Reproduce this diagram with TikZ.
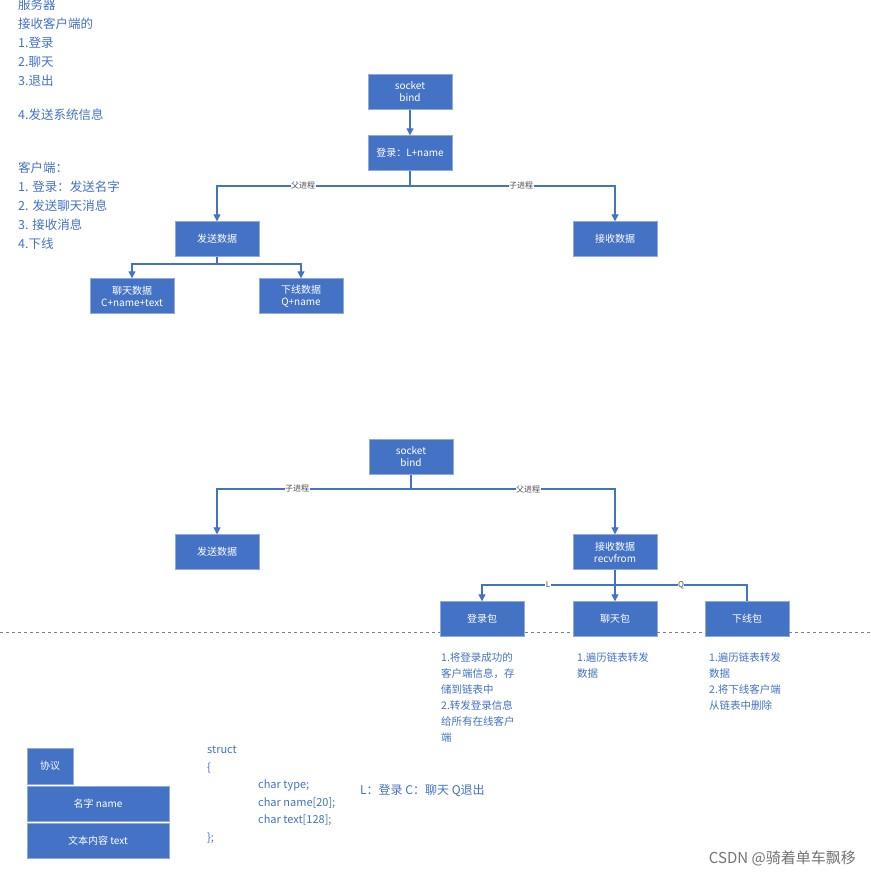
\documentclass[tikz,border=0pt]{standalone}
\usepackage{fontspec}
\setmainfont{Noto Sans CJK SC}
\usetikzlibrary{arrows.meta}
\definecolor{bl}{HTML}{4472C4}
\begin{document}
\begin{tikzpicture}[x=1pt,y=-1pt,
 bx/.style={fill=bl,draw=bl!60!white,text=white,minimum width=84pt,minimum height=35pt,font=\fontsize{10}{12}\selectfont,align=center,inner sep=1pt},
 ln/.style={draw=bl,line width=1.2pt},
 ar/.style={ln,-{Triangle[width=7pt,length=7pt]}},
 lb/.style={fill=white,inner sep=0.5pt,font=\fontsize{8}{9}\selectfont,text=black!70},
 tx/.style={text=bl,anchor=north west,font=\fontsize{12.5}{19}\selectfont,align=left,inner sep=0pt},
 sx/.style={text=bl,anchor=north west,font=\fontsize{10.5}{16}\selectfont,align=left,inner sep=0pt}]
\useasboundingbox[fill=white] (0,0) rectangle (870,877);
\node[tx] (l1) at (18,-1) {服务器\\接收客户端的\\1.登录\\2.聊天\\3.退出};
\node[tx] (l2) at (18,109) {4.发送系统信息};
\node[tx] (l3) at (18,162) {客户端：\\1. 登录：发送名字\\2. 发送聊天消息\\3. 接收消息\\4.下线};
% top
\node[bx] (s1) at (410,92) {socket\\bind};
\node[bx] (lg) at (410,153) {登录：L+name};
\node[bx] (sd1) at (217,239) {发送数据};
\node[bx] (rc1) at (615,239) {接收数据};
\node[bx] (ct) at (132,296) {聊天数据\\C+name+text};
\node[bx] (qt) at (301,296) {下线数据\\Q+name};
\draw[ar] (s1) -- (lg);
\draw[ar] (lg.south) |- (303,186) node[lb]{父进程} -| (sd1.north);
\draw[ar] (lg.south) |- (521,186) node[lb]{子进程} -| (rc1.north);
\draw[ar] (sd1.south) |- (132,264) -- (ct.north);
\draw[ar] (sd1.south) |- (301,264) -- (qt.north);
% second
\node[bx] (s2) at (411,457) {socket\\bind};
\node[bx] (sd2) at (217,552) {发送数据};
\node[bx] (rc2) at (615,552) {接收数据\\recvfrom};
\node[bx] (p1) at (482,619) {登录包};
\node[bx] (p2) at (615,619) {聊天包};
\node[bx] (p3) at (747,619) {下线包};
\draw[ar] (s2.south) |- (297,489) node[lb]{子进程} -| (sd2.north);
\draw[ar] (s2.south) |- (528,489) node[lb]{父进程} -| (rc2.north);
\draw[ar] (rc2.south) |- (548,585) node[lb]{L} -| (p1.north);
\draw[ar] (rc2) -- (p2);
\draw[ln] (rc2.south) |- (681,585) node[lb]{Q} -| (p3.north);
\begin{scope}[on background layer/.try]
\end{scope}
\draw[black!50,dashed,line width=0.8pt] (0,632) -- (440,632) (525,632) -- (573,632) (657,632) -- (705,632) (789,632) -- (870,632);
\node[sx] (d1) at (441,652) {1.将登录成功的\\客户端信息，存\\储到链表中\\2.转发登录信息\\给所有在线客户\\端};
\node[sx] (d2) at (577,652) {1.遍历链表转发\\数据};
\node[sx] (d3) at (709,652) {1.遍历链表转发\\数据\\2.将下线客户端\\从链表中删除};
% bottom
\node[bx,minimum width=46pt,minimum height=36pt] (pr) at (50,766) {协议};
\node[bx,minimum width=142pt] (nm) at (98,803.5) {名字 name};
\node[bx,minimum width=142pt] (te) at (98,840.5) {文本内容 text};
\node[sx,font=\fontsize{11}{17.5}\selectfont] (st) at (207,746) {struct\\\{\\\hspace*{51pt}char type;\\\hspace*{51pt}char name[20];\\\hspace*{51pt}char text[128];\\\};};
\node[text=bl,anchor=west,font=\fontsize{12}{13}\selectfont,inner sep=0pt] (ty) at (360,791) {L：登录 C：聊天 Q退出};
\node[text=black!55,anchor=east,font=\fontsize{15}{16}\selectfont,inner sep=0pt] (wm) at (856,858) {CSDN @骑着单车飘移};
\end{tikzpicture}
\end{document}
